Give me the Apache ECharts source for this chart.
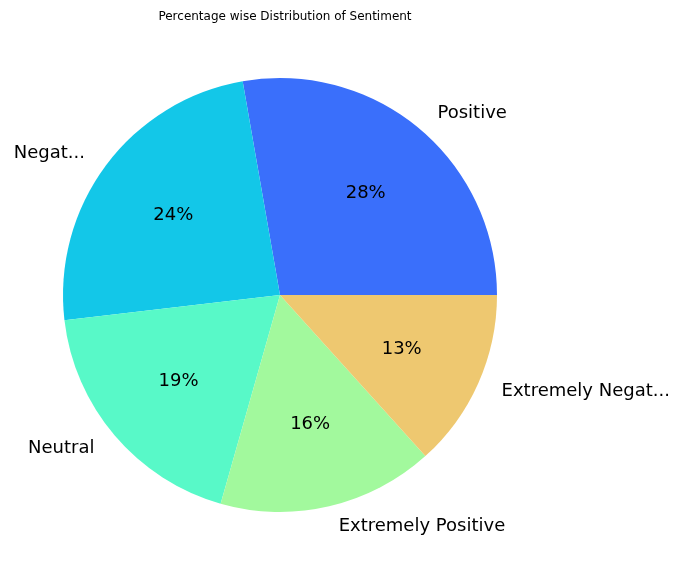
<!DOCTYPE html>
<html>
<head>
<meta charset="utf-8">
<script src="https://cdn.jsdelivr.net/npm/echarts@6/dist/echarts.min.js"></script>
<style>html,body{margin:0;padding:0;background:#fff}#chart{width:683px;height:574px}</style>
</head>
<body>
<div id="chart"></div>
<script>
// sentiment categories and tweet counts
const categories = ['Positive', 'Negative', 'Neutral', 'Extremely Positive', 'Extremely Negative']
const counts = [11422, 9917, 7713, 6624, 5481]
const colors = ['#3a6ffb', '#13c7e8', '#58f9c8', '#a2f99d', '#eec870']

const total = counts.reduce((a, b) => a + b, 0)
const data = categories.map((c, i) => ({ name: c, value: counts[i], itemStyle: { color: colors[i] } }))
const R = 217
const center = [280, 295]
const font = 'DejaVu Sans'

const chart = echarts.init(document.getElementById('chart'))
chart.setOption({
  animation: false,
  title: {
    text: 'Percentage wise Distribution of Sentiment',
    left: 280, top: 6, textAlign: 'center',
    textStyle: { fontFamily: font, fontSize: 12, fontWeight: 'normal', color: '#000' }
  },
  series: [
    {
      type: 'pie', radius: [0, R], center, startAngle: 0, clockwise: false,
      silent: true, data,
      label: { show: true, position: 'outside', fontFamily: font, fontSize: 18, color: '#000', formatter: '{b}' },
      labelLine: { show: false, length: 20, length2: 0 }
    },
    {
      // transparent ring so the inside labels sit at 0.6 R
      type: 'pie', radius: [0, R * 1.2], center, startAngle: 0, clockwise: false,
      silent: true,
      data: data.map(d => ({ name: d.name, value: d.value, itemStyle: { color: 'rgba(0,0,0,0)' } })),
      label: {
        show: true, position: 'inside', fontFamily: font, fontSize: 18, color: '#000',
        formatter: p => Math.round(p.value / total * 100) + '%'
      },
      labelLine: { show: false }
    }
  ]
})
</script>
</body>
</html>
